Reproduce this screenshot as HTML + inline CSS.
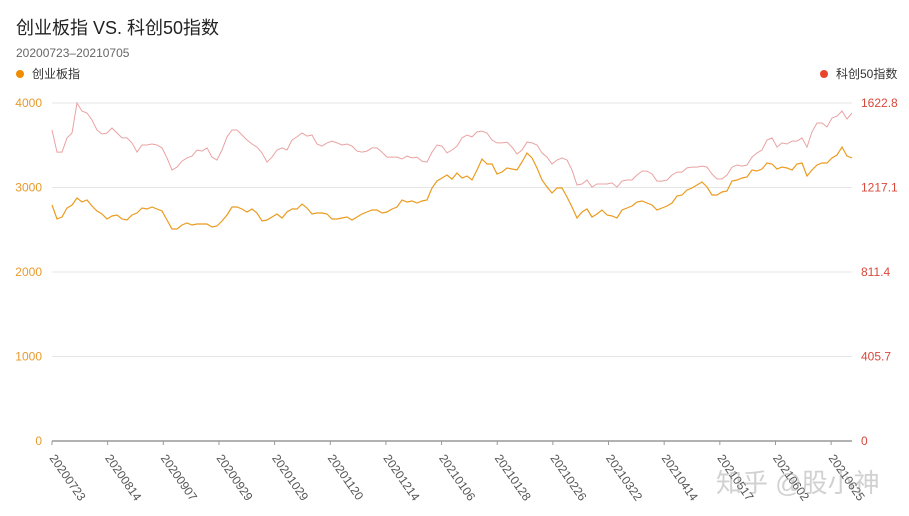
<!DOCTYPE html>
<html><head><meta charset="utf-8">
<style>
body{margin:0;background:#fff;width:909px;height:516px;overflow:hidden;font-family:"Liberation Sans","Noto Sans CJK SC",sans-serif;}
svg{position:absolute;left:0;top:0}
</style></head>
<body>
<svg id="chart" width="909" height="516">
<text x="16" y="34" font-size="18" fill="#222">创业板指 VS. 科创50指数</text>
<text x="16" y="57" font-size="12" fill="#666">20200723–20210705</text>
<g><circle cx="20" cy="74" r="4" fill="#f08c00"/><text x="32" y="78" font-size="12" fill="#333">创业板指</text></g>
<g><circle cx="824" cy="74" r="4" fill="#e8452c"/><text x="836" y="78" font-size="12" fill="#333">科创50指数</text></g>
<g id="grid"></g>
<g id="ylabels"></g>
<g id="xaxis"></g>
<g id="series"></g>
<text x="716" y="492" font-size="26" fill="#999" fill-opacity="0.45">知乎 @股小神</text>
</svg>
<script>
const tickLabels=["20200723","20200814","20200907","20200929","20201029","20201120","20201214","20210106","20210128","20210226","20210322","20210414","20210517","20210602","20210625"];
const leftTicks=[0,1000,2000,3000,4000];
const rightTicks=["0","405.7","811.4","1217.1","1622.8"];
const chinext=[2793,2627,2651,2757,2793,2876,2828,2852,2781,2722,2686,2627,2663,2675,2627,2615,2675,2698,2757,2745,2769,2745,2722,2615,2509,2509,2556,2580,2556,2568,2568,2568,2532,2544,2603,2675,2769,2769,2745,2710,2745,2698,2603,2615,2651,2686,2639,2710,2745,2745,2805,2757,2686,2698,2698,2686,2627,2627,2639,2651,2615,2651,2686,2710,2734,2734,2698,2710,2745,2769,2852,2828,2840,2817,2840,2852,2994,3077,3112,3148,3100,3172,3112,3136,3089,3207,3337,3278,3278,3160,3183,3231,3219,3207,3302,3408,3349,3231,3089,3006,2935,2994,2994,2887,2769,2639,2710,2745,2651,2686,2734,2675,2663,2639,2734,2757,2781,2828,2840,2817,2793,2734,2757,2781,2817,2899,2911,2970,2994,3030,3065,3006,2911,2911,2947,2959,3077,3089,3112,3124,3207,3195,3219,3290,3278,3219,3243,3231,3207,3278,3290,3136,3207,3266,3290,3290,3349,3385,3479,3373,3349];
const star50=[1493,1387,1387,1455,1479,1623,1584,1575,1541,1493,1474,1479,1503,1479,1455,1455,1431,1387,1421,1421,1426,1421,1407,1359,1301,1315,1344,1359,1368,1397,1392,1407,1363,1349,1397,1460,1493,1493,1469,1445,1426,1411,1383,1339,1363,1397,1407,1397,1445,1460,1479,1464,1469,1426,1416,1431,1440,1431,1421,1426,1416,1392,1387,1392,1407,1407,1387,1363,1363,1363,1354,1368,1359,1363,1344,1339,1387,1421,1416,1383,1397,1416,1455,1469,1460,1484,1488,1479,1445,1431,1431,1435,1411,1378,1397,1435,1431,1421,1383,1363,1330,1349,1359,1349,1301,1229,1234,1253,1219,1234,1234,1234,1239,1219,1248,1253,1253,1277,1296,1296,1282,1248,1248,1253,1277,1291,1291,1311,1315,1315,1320,1315,1282,1258,1258,1277,1315,1325,1320,1325,1363,1383,1397,1445,1455,1411,1431,1426,1440,1440,1455,1411,1484,1527,1527,1508,1551,1560,1584,1546,1575];
const NS='http://www.w3.org/2000/svg';
const X0=52,X1=852,YT=103,YB=441,LMAX=4000,RMAX=1622.8;
const totalDays=230, daysPerTick=16;
const xDay=d=>X0+d*(X1-X0)/totalDays;
const xIdx=(i,n)=>X0+i*(X1-X0)/(n-1);
const yL=v=>YB-v/LMAX*(YB-YT);
const yR=v=>YB-v/RMAX*(YB-YT);
function mk(tag,attrs,parent){const e=document.createElementNS(NS,tag);for(const k in attrs)e.setAttribute(k,attrs[k]);parent.appendChild(e);return e;}
const grid=document.getElementById('grid'),yl=document.getElementById('ylabels'),xa=document.getElementById('xaxis'),ser=document.getElementById('series');
leftTicks.forEach((t,i)=>{
  const y=yL(t);
  if(i>0){const g=mk('line',{x1:X0,x2:X1,y1:y,y2:y,stroke:'#e6e6e6','stroke-width':1},grid);
  
  }
  const a=mk('text',{x:42,y:y+4,'font-size':12,fill:'#e89a2c','text-anchor':'end'},yl);a.textContent=t;
  
  
  const b=mk('text',{x:861,y:y+4,'font-size':12,fill:'#d9483b'},yl);b.textContent=rightTicks[i];
  
  
});
const ax=mk('line',{x1:X0,x2:X1,y1:YB,y2:YB,stroke:'#666','stroke-width':1},xa);


tickLabels.forEach((lab,j)=>{
  const x=xDay(j*daysPerTick);
  const tk=mk('line',{x1:x,x2:x,y1:YB,y2:YB+4,stroke:'#999'},xa);
  
  
  const t=mk('text',{x:x-3,y:YB+17,'font-size':12,fill:'#555',transform:`rotate(55 ${x-3} ${YB+17})`},xa);
  t.textContent=lab;
  
  
});
function path(vals,yf){return vals.map((v,i)=>(i?'L':'M')+xIdx(i,vals.length).toFixed(1)+','+yf(v).toFixed(1)).join('');}
const p2=mk('path',{d:path(star50,yR),fill:'none',stroke:'#eaa2a2','stroke-width':1},ser);


const p1=mk('path',{d:path(chinext,yL),fill:'none',stroke:'#eb9b1e','stroke-width':1.2},ser);


</script>
</body></html>
